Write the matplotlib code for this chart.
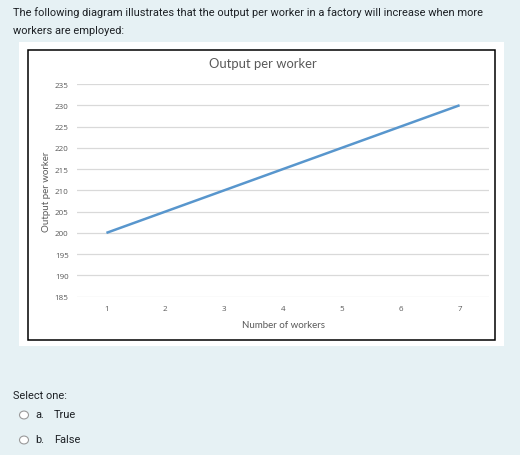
import numpy as np
import matplotlib
matplotlib.use("Agg")
import matplotlib.pyplot as plt
from matplotlib.patches import Rectangle, Circle

workers = [1, 2, 3, 4, 5, 6, 7]
output = [200, 205, 210, 215, 220, 225, 230]
yticks = [185, 190, 195, 200, 205, 210, 215, 220, 225, 230, 235]

W, H = 520, 456
BG = "#e6f1f4"
TXT = "#1d2125"
FS = 7.9

def fx(px):
    return px / W

def fy(py):
    return 1 - py / H

fig = plt.figure(figsize=(W / 100, H / 100), dpi=100, facecolor=BG)

# white card + chart border, kept underneath the axes
fig.patches.append(Rectangle((fx(19), fy(347)), fx(504) - fx(19), fy(43) - fy(347),
                             transform=fig.transFigure, facecolor="white", edgecolor="none", zorder=-2))
fig.patches.append(Rectangle((fx(28), fy(340.5)), fx(495) - fx(28), fy(50.5) - fy(340.5),
                             transform=fig.transFigure, facecolor="white", edgecolor="black",
                             lw=1.1, zorder=-1))

ax = fig.add_axes([fx(77), fy(297.7), fx(489) - fx(77), fy(85) - fy(297.7)])
ax.set_zorder(1)
ax.set_facecolor("none")
ax.plot(workers, output, color="#5896cd", lw=1.8, solid_capstyle="butt", zorder=3)
ax.set_xlim(0.5, 7.5)
ax.set_ylim(185, 235)
ax.set_yticks(yticks)
ax.set_xticks(workers)
ax.grid(axis="y", color="#d9d9d9", lw=0.9)
ax.set_axisbelow(True)
for s in ax.spines.values():
    s.set_visible(False)
ax.tick_params(length=0, labelsize=5.8, labelcolor="#595959", pad=6)
for lab in ax.get_yticklabels() + ax.get_xticklabels():
    lab.set_family("Open Sans")
ax.set_xlabel("Number of workers", fontsize=7, color="#595959", family="Lato", labelpad=6)
ax.set_ylabel("Output per worker", fontsize=7, color="#595959", family="Lato", labelpad=3)

fig.text(fx(263), fy(64), "Output per worker", ha="center", va="center",
         fontsize=9.4, color="#595959", family="Lato")

# question text
fig.text(fx(13), fy(13), "The following diagram illustrates that the output per worker in a factory will increase when more",
         ha="left", va="center", fontsize=FS, color=TXT, family="Roboto")
fig.text(fx(13), fy(31), "workers are employed:", ha="left", va="center",
         fontsize=FS, color=TXT, family="Roboto")
fig.text(fx(13), fy(396), "Select one:", ha="left", va="center",
         fontsize=FS, color=TXT, family="Roboto")
for yy, letter, label in [(416, "a.", "True"), (441, "b.", "False")]:
    fig.patches.append(Circle((fx(24), fy(yy)), 4.5 / W, transform=fig.transFigure,
                              facecolor="white", edgecolor="#9a9a9a", lw=0.8))
    fig.text(fx(35), fy(yy - 1), letter, ha="left", va="center", fontsize=FS,
             color=TXT, family="Roboto")
    fig.text(fx(54), fy(yy - 1), label, ha="left", va="center", fontsize=FS,
             color=TXT, family="Roboto")

fig.savefig("out.png", dpi=100, facecolor=BG)
